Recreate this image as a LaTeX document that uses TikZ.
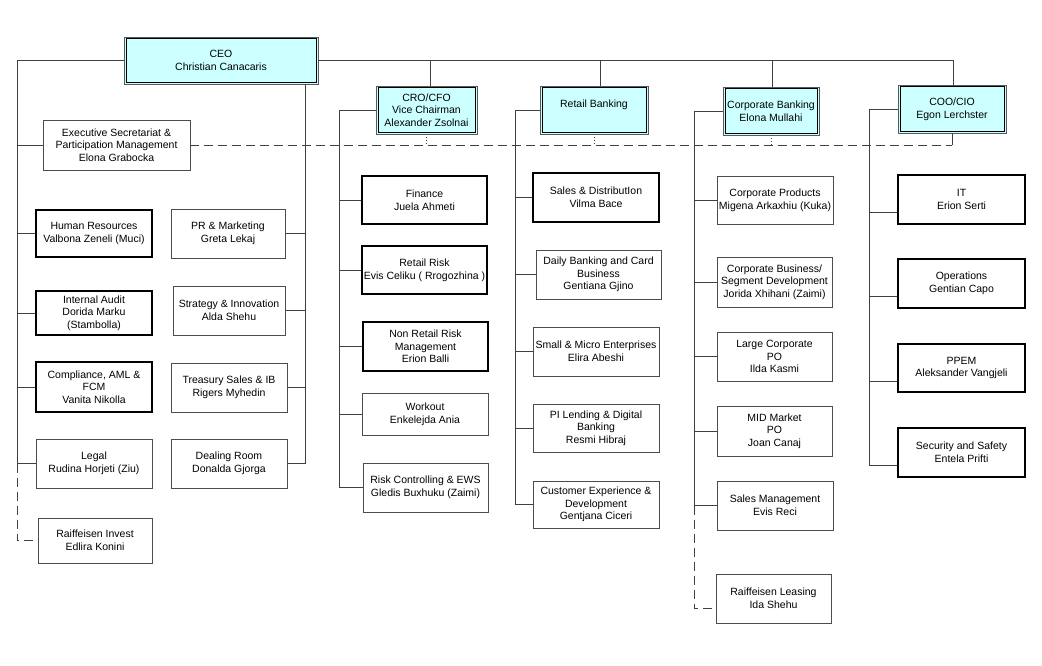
\documentclass[tikz,border=0pt]{standalone}
\usepackage{fontspec}
\setmainfont{Liberation Sans}
\definecolor{boxcyan}{RGB}{204,255,255}
\begin{document}
\begin{tikzpicture}[x=1pt,y=-1pt,
  font=\fontsize{10.5}{12.7}\selectfont,
  sz/.style 2 args={minimum width=#1pt,minimum height=#2pt},
  unitbox/.style={draw=black!70,line width=0.8pt,fill=white,align=center,inner sep=0.5pt},
  keybox/.style={unitbox,draw=black,line width=1.4pt},
  headbox/.style={unitbox,draw=black!65,line width=0.9pt,fill=boxcyan},
  headline/.style={draw=black,line width=0.7pt},
  link/.style={draw=black!75,line width=0.8pt},
  dlink/.style={link,dash pattern=on 9pt off 5pt},
  olink/.style={link,dotted}]
  \useasboundingbox (0,0) rectangle (1042,666);

  % spines and drops
  \coordinate (lspine) at (17,0);
  \coordinate (rspine) at (305,0);
  \coordinate (crospine) at (339,0);
  \coordinate (retspine) at (515,0);
  \coordinate (corpspine) at (694,0);
  \coordinate (coospine) at (869,0);
  \coordinate (crodrop) at (430,0);
  \coordinate (retdrop) at (600,0);
  \coordinate (corpdrop) at (772,0);
  \coordinate (coodrop) at (953,0);

  % heads
  \node[headbox,sz={194}{47}] (ceo) at (221,60.5) {CEO\\Christian Canacaris};
  \node[headbox,sz={101}{48}] (cro) at (426.5,110) {CRO/CFO\\Vice Chairman\\Alexander Zsolnai};
  \node[headbox,sz={108}{48}] (retail) at (594,110) {Retail Banking\\\mbox{}};
  \node[headbox,sz={96}{48}] (corp) at (771,111) {Corporate Banking\\Elona Mullahi};
  \node[headbox,sz={108}{48}] (coo) at (952,109) {COO/CIO\\Egon Lerchster};
  \foreach \h in {ceo,cro,retail,corp,coo}
    \draw[headline] ([shift={(2.3pt,2.3pt)}]\h.south west) rectangle ([shift={(-2.3pt,-2.3pt)}]\h.north east);

  % CEO staff
  \node[unitbox,sz={147}{50}] (exec) at (116.5,145) {Executive Secretariat \&\\Participation Management\\Elona Grabocka};
  \node[keybox,sz={116}{47}] (hr) at (94,233.5) {Human Resources\\Valbona Zeneli (Muci)};
  \node[keybox,sz={116}{44}] (audit) at (94,313) {Internal Audit\\Dorida Marku\\(Stambolla)};
  \node[keybox,sz={116}{50}] (compl) at (94,387) {Compliance, AML \&\\FCM\\Vanita Nikolla};
  \node[unitbox,sz={116}{49}] (legal) at (94,463.5) {Legal\\Rudina Horjeti (Ziu)};
  \node[unitbox,sz={114}{45}] (rinv) at (95,540.5) {Raiffeisen Invest\\Edlira Konini};
  \node[unitbox,sz={114}{49}] (pr) at (228,233.5) {PR \& Marketing\\Greta Lekaj};
  \node[unitbox,sz={112}{49}] (strat) at (229,310.5) {Strategy \& Innovation\\Alda Shehu};
  \node[unitbox,sz={116}{49}] (treas) at (229,387.5) {Treasury Sales \& IB\\Rigers Myhedin};
  \node[unitbox,sz={116}{49}] (deal) at (229,463.5) {Dealing Room\\Donalda Gjorga};

  % CRO/CFO units
  \node[keybox,sz={125}{48}] (fin) at (424.5,200) {Finance\\Juela Ahmeti};
  \node[keybox,sz={125}{48}] (rrisk) at (424.5,270) {Retail Risk\\Evis Celiku ( Rrogozhina )};
  \node[keybox,sz={125}{49}] (nrrisk) at (425.5,346.5) {Non Retail Risk\\Management\\Erion Balli};
  \node[unitbox,sz={126}{42}] (wout) at (425,414) {Workout\\Enkelejda Ania};
  \node[unitbox,sz={125}{49}] (riskc) at (425.5,487.5) {Risk Controlling \& EWS\\Gledis Buxhuku (Zaimi)};

  % Retail units
  \node[keybox,sz={126}{49}] (salesd) at (596,197.5) {Sales \& DistributIon\\Vilma Bace};
  \node[unitbox,sz={125}{49}] (daily) at (598.5,274.5) {Daily Banking and Card\\Business\\Gentiana Gjino};
  \node[unitbox,sz={126}{49}] (small) at (596,351.5) {Small \& Micro Enterprises\\Elira Abeshi};
  \node[unitbox,sz={126}{48}] (pilend) at (596,428) {PI Lending \& Digital\\Banking\\Resmi Hibraj};
  \node[unitbox,sz={126}{47}] (custexp) at (596,504.5) {Customer Experience \&\\Development\\Gentjana Ciceri};

  % Corporate units
  \node[unitbox,sz={116}{48}] (cprod) at (775,200) {Corporate Products\\Migena Arkaxhiu (Kuka)};
  \node[unitbox,sz={115}{50}] (cbus) at (774.5,282) {Corporate Business/\\Segment Development\\Jorida Xhihani (Zaimi)};
  \node[unitbox,sz={115}{49}] (large) at (774.5,356.5) {Large Corporate\\PO\\Ilda Kasmi};
  \node[unitbox,sz={115}{50}] (mid) at (774.5,431) {MID Market\\PO\\Joan Canaj};
  \node[unitbox,sz={116}{49}] (salesm) at (775,505.5) {Sales Management\\Evis Reci};
  \node[unitbox,sz={115}{49}] (leas) at (773.5,598.5) {Raiffeisen Leasing\\Ida Shehu};

  % COO/CIO units
  \node[keybox,sz={127}{49}] (it) at (961.5,199.5) {IT\\Erion Serti};
  \node[keybox,sz={127}{49}] (ops) at (961.5,283.5) {Operations\\Gentian Capo};
  \node[keybox,sz={127}{48}] (ppem) at (961.5,368) {PPEM\\Aleksander Vangjeli};
  \node[keybox,sz={127}{49}] (sec) at (961.5,452.5) {Security and Safety\\Entela Prifti};

  % CEO lines
  \draw[link] (ceo.east) -- (ceo.east -| coodrop) -- (coodrop |- coo.north);
  \foreach \h/\d in {cro/crodrop,retail/retdrop,corp/corpdrop}
    \draw[link] (ceo.east -| \d) -- (\d |- \h.north);
  \draw[link] (ceo.west) -- (ceo.west -| lspine) -- (lspine |- legal.west);
  \draw[dlink] (lspine |- legal.west) -- (lspine |- rinv.west) -- (rinv.west);
  \foreach \b in {exec,hr,audit,compl,legal}
    \draw[link] (\b.west) -- (\b.west -| lspine);
  \draw[link] (ceo.south -| rspine) -- (rspine |- deal.east) -- (deal.east);
  \foreach \b in {pr,strat,treas}
    \draw[link] (\b.east) -- (\b.east -| rspine);

  % dashed staff line
  \draw[dlink] (exec.east) -- (exec.east -| coo.south);
  \draw[link] (exec.east -| coo.south) -- (coo.south);
  \foreach \h in {cro,retail,corp}
    \draw[olink] (\h.south) -- (\h.south |- exec.east);

  % CRO/CFO lines
  \draw[link] (cro.west) -- (cro.west -| crospine) -- (crospine |- riskc.west) -- (riskc.west);
  \foreach \b in {fin,rrisk,nrrisk,wout}
    \draw[link] (\b.west) -- (\b.west -| crospine);

  % Retail lines
  \draw[link] (retail.west) -- (retail.west -| retspine) -- (retspine |- custexp.west) -- (custexp.west);
  \foreach \b in {salesd,daily,small,pilend}
    \draw[link] (\b.west) -- (\b.west -| retspine);

  % Corporate lines
  \coordinate (leas-in) at ([yshift=-10pt]leas.west);
  \draw[link] (corp.west) -- (corp.west -| corpspine) -- (corpspine |- salesm.west);
  \foreach \b in {cprod,cbus,large,mid,salesm}
    \draw[link] (\b.west) -- (\b.west -| corpspine);
  \draw[dlink] (corpspine |- salesm.west) -- (corpspine |- leas-in) -- (leas-in);

  % COO/CIO lines
  \foreach \b in {it,ops,ppem,sec}
    \coordinate (\b-in) at ([yshift=-13pt]\b.west);
  \draw[link] (coo.west) -- (coo.west -| coospine) -- (coospine |- sec-in);
  \foreach \b in {it,ops,ppem,sec}
    \draw[link] (\b-in) -- (\b-in -| coospine);
\end{tikzpicture}
\end{document}
